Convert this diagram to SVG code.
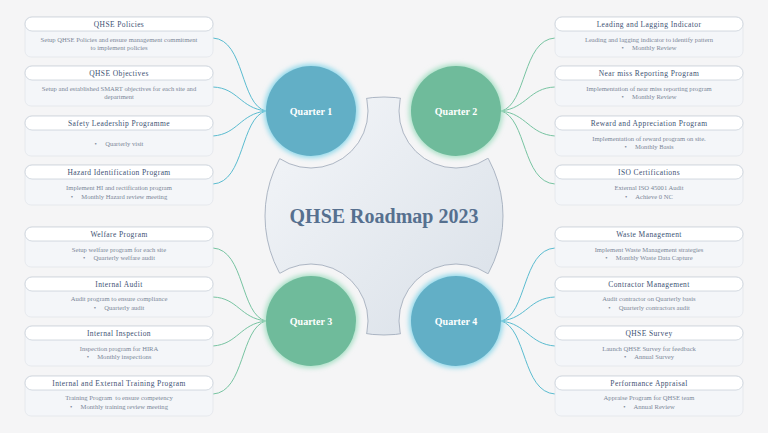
<svg xmlns="http://www.w3.org/2000/svg" width="768" height="433" viewBox="0 0 768 433">
<defs>
<style>
.card{fill:#f4f6f9;stroke:#e2e6eb;stroke-width:0.8}
.pill{fill:#fff;stroke:#c9d0d9;stroke-width:0.8}
.t{font-family:"Liberation Serif",serif;font-size:7.5px;fill:#3d5273;text-anchor:middle;letter-spacing:0.4px}
.b{font-family:"Liberation Serif",serif;font-size:6.6px;fill:#7b8698;text-anchor:middle;white-space:pre}
.q{font-family:"Liberation Serif",serif;font-size:10px;font-weight:bold;fill:#fff;text-anchor:middle}
.cb{fill:none;stroke:#5bbcd0;stroke-width:1}
.cg{fill:none;stroke:#78c4a2;stroke-width:1}
</style>
<linearGradient id="cg" x1="0" y1="0" x2="1" y2="1"><stop offset="0" stop-color="#f4f6f9"/><stop offset="1" stop-color="#d9e0e8"/></linearGradient>
<mask id="m"><rect width="768" height="433" fill="#fff"/><circle cx="311" cy="111" r="57"/><circle cx="456" cy="111" r="57"/><circle cx="311" cy="321" r="57"/><circle cx="456" cy="321" r="57"/></mask>
<clipPath id="cp"><circle cx="384" cy="216" r="119"/></clipPath>
<filter id="gl" x="-30%" y="-30%" width="160%" height="160%"><feGaussianBlur stdDeviation="2.5"/></filter>
</defs>
<rect width="768" height="433" fill="#f5f5f6"/>
<g id="center">
<circle cx="384" cy="216" r="119" fill="url(#cg)" stroke="#9aa6b6" stroke-width="0.8" mask="url(#m)"/>
<g clip-path="url(#cp)" fill="none" stroke="#9aa6b6" stroke-width="0.8">
<circle cx="311" cy="111" r="57"/><circle cx="456" cy="111" r="57"/><circle cx="311" cy="321" r="57"/><circle cx="456" cy="321" r="57"/>
</g>
<text x="384" y="223" font-family="Liberation Serif,serif" font-size="20" font-weight="bold" fill="#56708f" text-anchor="middle">QHSE Roadmap 2023</text>
</g>
<g id="connectors">
<path class="cb" d="M266 111 C240 105,245 40,213 38"/>
<path class="cb" d="M266 111 C240 108,238 88,213 87"/>
<path class="cb" d="M266 111 C240 114,238 134,213 136"/>
<path class="cb" d="M266 111 C240 118,245 182,213 184"/>
<path class="cg" d="M501 111 C527 105,522 40,555 38"/>
<path class="cg" d="M501 111 C527 108,529 88,555 87"/>
<path class="cg" d="M501 111 C527 114,529 134,555 136"/>
<path class="cg" d="M501 111 C527 118,522 182,555 184"/>
<path class="cg" d="M266 321 C240 315,245 250,213 248"/>
<path class="cg" d="M266 321 C240 318,238 298,213 297"/>
<path class="cg" d="M266 321 C240 324,238 344,213 346"/>
<path class="cg" d="M266 321 C240 328,245 392,213 394"/>
<path class="cb" d="M501 321 C527 315,522 250,555 248"/>
<path class="cb" d="M501 321 C527 318,529 298,555 297"/>
<path class="cb" d="M501 321 C527 324,529 344,555 346"/>
<path class="cb" d="M501 321 C527 328,522 392,555 394"/>
</g>
<g id="q1"><circle cx="311" cy="111" r="47" fill="#8fd8ea" filter="url(#gl)"/><circle cx="311" cy="111" r="45" fill="#62afc6"/><text class="q" x="311" y="115">Quarter 1</text></g>
<g id="q2"><circle cx="456" cy="111" r="47" fill="#a8e0c6" filter="url(#gl)"/><circle cx="456" cy="111" r="45" fill="#6fbb9b"/><text class="q" x="456" y="115">Quarter 2</text></g>
<g id="q3"><circle cx="311" cy="321" r="47" fill="#a8e0c6" filter="url(#gl)"/><circle cx="311" cy="321" r="45" fill="#6fbb9b"/><text class="q" x="311" y="325">Quarter 3</text></g>
<g id="q4"><circle cx="456" cy="321" r="47" fill="#8fd8ea" filter="url(#gl)"/><circle cx="456" cy="321" r="45" fill="#62afc6"/><text class="q" x="456" y="325">Quarter 4</text></g>

<g id="c1"><rect class="card" x="25" y="17" width="188" height="40" rx="6"/><rect class="pill" x="25" y="17" width="188" height="14" rx="7"/><text class="t" x="119" y="27">QHSE Policies</text><text class="b" x="119" y="42">Setup QHSE Policies and ensure management commitment</text><text class="b" x="119" y="50">to implement policies</text></g>
<g id="c2"><rect class="card" x="25" y="66" width="188" height="40" rx="6"/><rect class="pill" x="25" y="66" width="188" height="14" rx="7"/><text class="t" x="119" y="76">QHSE Objectives</text><text class="b" x="119" y="91">Setup and established SMART objectives for each site and</text><text class="b" x="119" y="99">department</text></g>
<g id="c3"><rect class="card" x="25" y="116" width="188" height="40" rx="6"/><rect class="pill" x="25" y="116" width="188" height="14" rx="7"/><text class="t" x="119" y="126">Safety Leadership Programme</text><text class="b" x="119" y="146">•     Quarterly visit</text></g>
<g id="c4"><rect class="card" x="25" y="165" width="188" height="40" rx="6"/><rect class="pill" x="25" y="165" width="188" height="14" rx="7"/><text class="t" x="119" y="175">Hazard Identification Program</text><text class="b" x="119" y="190">Implement HI and rectification program</text><text class="b" x="119" y="199">•     Monthly Hazard review meeting</text></g>

<g id="c5"><rect class="card" x="555" y="17" width="188" height="40" rx="6"/><rect class="pill" x="555" y="17" width="188" height="14" rx="7"/><text class="t" x="649" y="27">Leading and Lagging Indicator</text><text class="b" x="649" y="42">Leading and lagging indicator to identify pattern</text><text class="b" x="649" y="50">•     Monthly Review</text></g>
<g id="c6"><rect class="card" x="555" y="66" width="188" height="40" rx="6"/><rect class="pill" x="555" y="66" width="188" height="14" rx="7"/><text class="t" x="649" y="76">Near miss Reporting Program</text><text class="b" x="649" y="91">Implementation of near miss reporting program</text><text class="b" x="649" y="99">•     Monthly Review</text></g>
<g id="c7"><rect class="card" x="555" y="116" width="188" height="40" rx="6"/><rect class="pill" x="555" y="116" width="188" height="14" rx="7"/><text class="t" x="649" y="126">Reward and Appreciation Program</text><text class="b" x="649" y="141">Implementation of reward program on site.</text><text class="b" x="649" y="149">•     Monthly Basis</text></g>
<g id="c8"><rect class="card" x="555" y="165" width="188" height="40" rx="6"/><rect class="pill" x="555" y="165" width="188" height="14" rx="7"/><text class="t" x="649" y="175">ISO Certifications</text><text class="b" x="649" y="190">External ISO 45001 Audit</text><text class="b" x="649" y="199">•     Achieve 0 NC</text></g>

<g id="c9"><rect class="card" x="25" y="227" width="188" height="40" rx="6"/><rect class="pill" x="25" y="227" width="188" height="14" rx="7"/><text class="t" x="119" y="237">Welfare Program</text><text class="b" x="119" y="252">Setup welfare program for each site</text><text class="b" x="119" y="260">•     Quarterly welfare audit</text></g>
<g id="c10"><rect class="card" x="25" y="277" width="188" height="40" rx="6"/><rect class="pill" x="25" y="277" width="188" height="14" rx="7"/><text class="t" x="119" y="287">Internal Audit</text><text class="b" x="119" y="301">Audit program to ensure compliance</text><text class="b" x="119" y="310">•     Quarterly audit</text></g>
<g id="c11"><rect class="card" x="25" y="326" width="188" height="40" rx="6"/><rect class="pill" x="25" y="326" width="188" height="14" rx="7"/><text class="t" x="119" y="336">Internal Inspection</text><text class="b" x="119" y="351">Inspection program for HIRA</text><text class="b" x="119" y="359">•     Monthly inspections</text></g>
<g id="c12"><rect class="card" x="25" y="376" width="188" height="40" rx="6"/><rect class="pill" x="25" y="376" width="188" height="14" rx="7"/><text class="t" x="119" y="386">Internal and External Training Program</text><text class="b" x="119" y="400">Training Program  to ensure competency</text><text class="b" x="119" y="409">•     Monthly training review meeting</text></g>

<g id="c13"><rect class="card" x="555" y="227" width="188" height="40" rx="6"/><rect class="pill" x="555" y="227" width="188" height="14" rx="7"/><text class="t" x="649" y="237">Waste Management</text><text class="b" x="649" y="252">Implement Waste Management strategies</text><text class="b" x="649" y="260">•     Monthly Waste Data Capture</text></g>
<g id="c14"><rect class="card" x="555" y="277" width="188" height="40" rx="6"/><rect class="pill" x="555" y="277" width="188" height="14" rx="7"/><text class="t" x="649" y="287">Contractor Management</text><text class="b" x="649" y="301">Audit contractor on Quarterly basis</text><text class="b" x="649" y="310">•     Quarterly contractors audit</text></g>
<g id="c15"><rect class="card" x="555" y="326" width="188" height="40" rx="6"/><rect class="pill" x="555" y="326" width="188" height="14" rx="7"/><text class="t" x="649" y="336">QHSE Survey</text><text class="b" x="649" y="351">Launch QHSE Survey for feedback</text><text class="b" x="649" y="359">•     Annual Survey</text></g>
<g id="c16"><rect class="card" x="555" y="376" width="188" height="40" rx="6"/><rect class="pill" x="555" y="376" width="188" height="14" rx="7"/><text class="t" x="649" y="386">Performance Appraisal</text><text class="b" x="649" y="400">Appraise Program for QHSE team</text><text class="b" x="649" y="409">•     Annual Review</text></g>
</svg>
